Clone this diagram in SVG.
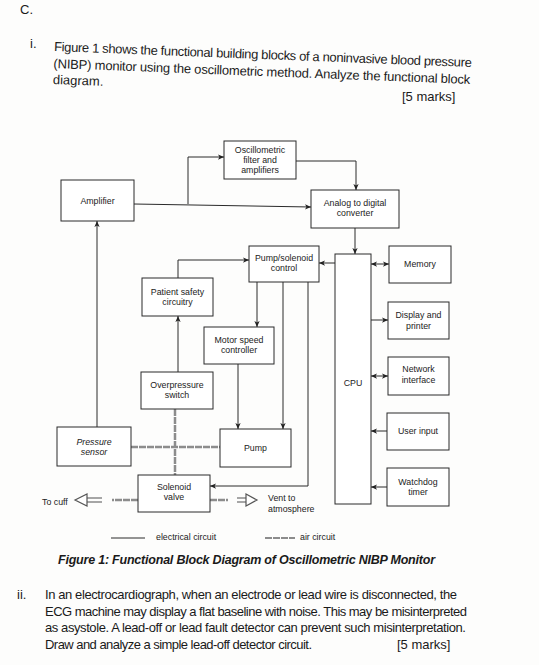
<svg xmlns="http://www.w3.org/2000/svg" width="539" height="665" viewBox="0 0 539 665">
<defs>
<style>
.bg{fill:#fdfdfc}
.box{fill:#fff;stroke:#2a2a2a;stroke-width:1}
.t{font-family:"Liberation Sans",Arial,sans-serif;font-size:8.8px;fill:#222;text-anchor:middle}
.ti{font-style:italic}
.p{font-family:"Liberation Sans",Arial,sans-serif;font-size:13px;fill:#1a1a1a}
.cap{font-family:"Liberation Sans",Arial,sans-serif;font-size:12.5px;font-weight:bold;font-style:italic;fill:#1a1a1a}
.e{fill:none;stroke:#2a2a2a;stroke-width:1}
.ea{fill:none;stroke:#2a2a2a;stroke-width:1;marker-end:url(#a)}
.eb{fill:none;stroke:#2a2a2a;stroke-width:1;marker-end:url(#a);marker-start:url(#a)}
.air{fill:none;stroke:#8c8c8c;stroke-width:2.5;stroke-dasharray:7 1}
.ha{fill:#fff;stroke:#555;stroke-width:1.2}
.hl{stroke:#777;stroke-width:1.3}
</style>
<marker id="a" viewBox="0 0 8 8" refX="8" refY="4" markerWidth="6" markerHeight="6" markerUnits="userSpaceOnUse" orient="auto-start-reverse">
<path d="M0,0.5 L8,4 L0,7.5 L2,4z" fill="#222"/>
</marker>
</defs>
<rect class="bg" x="0" y="0" width="539" height="665"/>

<g id="header">
<text class="p" x="20" y="14" font-size="11">C.</text>
<text class="p" x="30" y="48">i.</text>
<g transform="rotate(2.2 54 51)">
<text class="p" x="54" y="51" textLength="418" lengthAdjust="spacing">Figure 1 shows the functional building blocks of a noninvasive blood pressure</text>
<text class="p" x="54" y="68" textLength="417" lengthAdjust="spacing">(NIBP) monitor using the oscillometric method. Analyze the functional block</text>
<text class="p" x="54" y="84">diagram.</text>
</g>
<text class="p" x="402" y="101">[5 marks]</text>
</g>

<g id="connectors">
<path class="ea" d="M134,204 L311,207"/>
<path class="ea" d="M188,204 V157 H224"/>
<path class="ea" d="M296,161 H356 V190"/>
<path class="ea" d="M355,228 V254"/>
<path class="ea" d="M335,263 H319"/>
<path class="eb" d="M371,264 H389"/>
<path class="ea" d="M371,320 H388"/>
<path class="eb" d="M371,376 H388"/>
<path class="ea" d="M387,431 H371"/>
<path class="ea" d="M387,487 H371"/>
<path class="ea" d="M178,278 V260 H249"/>
<path class="ea" d="M178,372 V316"/>
<path class="ea" d="M257,282 V327"/>
<path class="ea" d="M238,364 V429"/>
<path class="ea" d="M283,282 V429"/>
<path class="ea" d="M308,282 V486 H210"/>
<path class="ea" d="M97,427 V221"/>
<path class="air" d="M175,409 V475"/>
<path class="air" d="M131,447 H220"/>
<path class="air" d="M138,500 H112"/>
<path class="air" d="M210,500 H228"/>
<line class="hl" x1="86" y1="498" x2="102" y2="498"/>
<line class="hl" x1="86" y1="502" x2="102" y2="502"/>
<polygon class="ha" points="75,500 87,494 87,506"/>
<line class="hl" x1="237" y1="498" x2="246" y2="498"/>
<line class="hl" x1="237" y1="502" x2="246" y2="502"/>
<polygon class="ha" points="257,500 246,494 246,506"/>
</g>

<g id="osc"><rect class="box" x="224" y="141" width="72" height="38"/>
<text class="t" x="260" y="153">Oscillometric</text><text class="t" x="260" y="163">filter and</text><text class="t" x="260" y="173">amplifiers</text></g>
<g id="amp"><rect class="box" x="61" y="180" width="73" height="41"/>
<text class="t" x="97.5" y="204">Amplifier</text></g>
<g id="adc"><rect class="box" x="311" y="190" width="88" height="38"/>
<text class="t" x="355" y="206">Analog to digital</text><text class="t" x="355" y="216">converter</text></g>
<g id="psc"><rect class="box" x="249" y="246" width="70" height="36"/>
<text class="t" x="284" y="261">Pump/solenoid</text><text class="t" x="284" y="271">control</text></g>
<g id="cpu"><rect class="box" x="335" y="254" width="36" height="250"/>
<text class="t" x="353" y="386">CPU</text></g>
<g id="mem"><rect class="box" x="389" y="246" width="62" height="37"/>
<text class="t" x="420" y="267">Memory</text></g>
<g id="disp"><rect class="box" x="388" y="302" width="61" height="37"/>
<text class="t" x="418.5" y="318">Display and</text><text class="t" x="418.5" y="329">printer</text></g>
<g id="net"><rect class="box" x="388" y="357" width="61" height="38"/>
<text class="t" x="418.5" y="372">Network</text><text class="t" x="418.5" y="383">interface</text></g>
<g id="user"><rect class="box" x="387" y="413" width="62" height="37"/>
<text class="t" x="418" y="434">User input</text></g>
<g id="wdog"><rect class="box" x="387" y="468" width="62" height="38"/>
<text class="t" x="418" y="485">Watchdog</text><text class="t" x="418" y="495">timer</text></g>
<g id="pat"><rect class="box" x="142" y="278" width="71" height="38"/>
<text class="t" x="177.5" y="295">Patient safety</text><text class="t" x="177.5" y="305">circuitry</text></g>
<g id="msc"><rect class="box" x="204" y="327" width="70" height="37"/>
<text class="t" x="239" y="343">Motor speed</text><text class="t" x="239" y="353">controller</text></g>
<g id="ovp"><rect class="box" x="141" y="372" width="72" height="37"/>
<text class="t" x="177" y="388">Overpressure</text><text class="t" x="177" y="398">switch</text></g>
<g id="pump"><rect class="box" x="220" y="429" width="71" height="38"/>
<text class="t" x="255.5" y="451">Pump</text></g>
<g id="ps"><rect class="box" x="57" y="427" width="74" height="39"/>
<text class="t ti" x="94" y="445">Pressure</text><text class="t ti" x="94" y="455">sensor</text></g>
<g id="sv"><rect class="box" x="138" y="475" width="72" height="37"/>
<text class="t" x="174" y="490">Solenoid</text><text class="t" x="174" y="500">valve</text></g>

<g id="labels">
<text class="t" x="42" y="505" style="text-anchor:start">To cuff</text>
<text class="t" x="268" y="501" style="text-anchor:start">Vent to</text>
<text class="t" x="268" y="512" style="text-anchor:start">atmosphere</text>
</g>

<g id="legend">
<line class="e" x1="111" y1="538" x2="145" y2="538"/>
<text class="t" x="156" y="540" style="text-anchor:start">electrical circuit</text>
<line class="air" x1="265" y1="538" x2="295" y2="538" style="stroke-width:2"/>
<text class="t" x="300" y="540" style="text-anchor:start">air circuit</text>
<text class="cap" x="58" y="564" textLength="377" lengthAdjust="spacing">Figure 1: Functional Block Diagram of Oscillometric NIBP Monitor</text>
</g>

<g id="question2">
<text class="p" x="17" y="599">ii.</text>
<text class="p" x="45" y="599" textLength="412" lengthAdjust="spacing">In an electrocardiograph, when an electrode or lead wire is disconnected, the</text>
<text class="p" x="45" y="616" textLength="422" lengthAdjust="spacing">ECG machine may display a flat baseline with noise. This may be misinterpreted</text>
<text class="p" x="45" y="632" textLength="421" lengthAdjust="spacing">as asystole. A lead-off or lead fault detector can prevent such misinterpretation.</text>
<text class="p" x="45" y="649" textLength="267" lengthAdjust="spacing">Draw and analyze a simple lead-off detector circuit.</text>
<text class="p" x="397" y="649">[5 marks]</text>
</g>
</svg>
